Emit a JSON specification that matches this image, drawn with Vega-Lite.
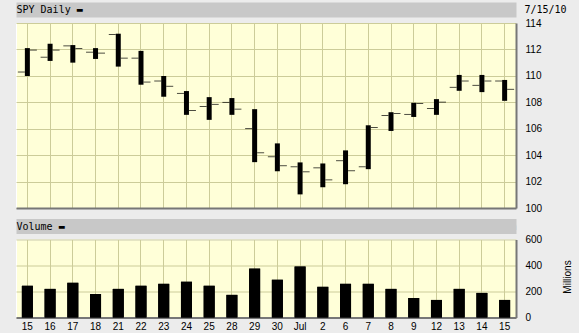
{
  "$schema": "https://vega.github.io/schema/vega-lite/v6.json",
  "background": "#ececec",
  "padding": {"left": 15, "top": 4, "right": 8, "bottom": 1},
  "spacing": 31.5,
  "bounds": "flush",
  "config": {
    "view": {"fill": "#ffffd8", "stroke": "#ffffff", "strokeWidth": 1},
    "axis": {
      "labelFont": "Liberation Sans",
      "labelFontSize": 10,
      "labelColor": "#000000",
      "titleFont": "DejaVu Sans Mono",
      "titleFontSize": 10,
      "titleFontWeight": "normal",
      "titleColor": "#000000",
      "gridColor": "#cccc99",
      "gridWidth": 1,
      "gridOpacity": 1,
      "ticks": false
    }
  },
  "data": {
    "values": [
      {"date": "2010-06-15", "o": 110.29, "h": 112.10, "l": 109.99, "c": 111.95, "v": 244},
      {"date": "2010-06-16", "o": 111.41, "h": 112.43, "l": 111.13, "c": 111.95, "v": 220},
      {"date": "2010-06-17", "o": 112.27, "h": 112.33, "l": 111.00, "c": 112.07, "v": 267},
      {"date": "2010-06-18", "o": 111.79, "h": 112.10, "l": 111.28, "c": 111.72, "v": 181},
      {"date": "2010-06-21", "o": 113.13, "h": 113.19, "l": 110.70, "c": 111.34, "v": 220},
      {"date": "2010-06-22", "o": 111.34, "h": 111.89, "l": 109.33, "c": 109.53, "v": 244},
      {"date": "2010-06-23", "o": 109.61, "h": 109.99, "l": 108.42, "c": 109.21, "v": 259},
      {"date": "2010-06-24", "o": 108.67, "h": 108.85, "l": 107.05, "c": 107.38, "v": 275},
      {"date": "2010-06-25", "o": 107.68, "h": 108.39, "l": 106.67, "c": 107.84, "v": 244},
      {"date": "2010-06-28", "o": 107.99, "h": 108.32, "l": 107.05, "c": 107.48, "v": 174},
      {"date": "2010-06-29", "o": 106.01, "h": 107.48, "l": 103.47, "c": 104.18, "v": 376},
      {"date": "2010-06-30", "o": 103.88, "h": 104.89, "l": 102.78, "c": 103.20, "v": 291},
      {"date": "2010-07-01", "o": 103.12, "h": 103.45, "l": 101.03, "c": 102.74, "v": 392},
      {"date": "2010-07-02", "o": 103.04, "h": 103.37, "l": 101.57, "c": 102.13, "v": 236},
      {"date": "2010-07-06", "o": 103.58, "h": 104.36, "l": 101.80, "c": 102.82, "v": 259},
      {"date": "2010-07-07", "o": 103.12, "h": 106.26, "l": 102.94, "c": 106.09, "v": 259},
      {"date": "2010-07-08", "o": 107.00, "h": 107.25, "l": 105.83, "c": 107.15, "v": 220},
      {"date": "2010-07-09", "o": 107.08, "h": 107.96, "l": 106.89, "c": 107.91, "v": 150},
      {"date": "2010-07-12", "o": 107.53, "h": 108.24, "l": 107.05, "c": 108.01, "v": 135},
      {"date": "2010-07-13", "o": 109.13, "h": 110.07, "l": 108.87, "c": 109.61, "v": 220},
      {"date": "2010-07-14", "o": 109.28, "h": 110.07, "l": 108.77, "c": 109.61, "v": 189},
      {"date": "2010-07-15", "o": 109.61, "h": 109.69, "l": 108.11, "c": 108.98, "v": 135}
    ]
  },
  "vconcat": [
    {
      "width": 500,
      "height": 185,
      "resolve": {"axis": {"x": "independent", "y": "independent"}},
      "layer": [
        {
          "mark": {"type": "bar", "size": 5, "color": "#000000"},
          "encoding": {
            "x": {
              "field": "date", "type": "ordinal", "sort": null,
              "scale": {"paddingInner": 0, "paddingOuter": 0},
              "axis": {
                "orient": "top", "labels": false, "grid": true,
                "domain": true, "domainColor": "#c8c8c8", "domainWidth": 15, "offset": 13.5,
                "title": "SPY Daily ▬", "titleX": 0, "titleY": 0,
                "titleAlign": "left", "titleBaseline": "middle", "titleAnchor": null
              }
            },
            "y": {
              "field": "h", "type": "quantitative",
              "scale": {"domain": [100, 114], "nice": false, "zero": false},
              "axis": {
                "orient": "right", "values": [100, 102, 104, 106, 108, 110, 112, 114],
                "grid": true, "labelPadding": 9, "domain": true, "domainColor": "#777777", "domainWidth": 2,
                "title": "7/15/10", "titleAngle": 0, "titleX": 8, "titleY": -13.5,
                "titleAlign": "left", "titleBaseline": "middle"
              }
            },
            "y2": {"field": "l"}
          }
        },
        {
          "mark": {"type": "tick", "orient": "horizontal", "size": 7, "thickness": 1, "xOffset": -6, "color": "#000000"},
          "encoding": {
            "x": {
              "field": "date", "type": "ordinal", "sort": null,
              "axis": {
                "orient": "bottom", "labels": false, "grid": false,
                "domain": true, "domainColor": "#777777", "domainWidth": 2,
                "title": "©BigCharts.com", "titleFont": "Liberation Sans", "titleFontWeight": "bold",
                "titleFontSize": 11, "titleColor": "#8a8a8a",
                "titleX": 500, "titleY": 18, "titleAlign": "right", "titleBaseline": "middle", "titleAnchor": null
              }
            },
            "y": {"field": "o", "type": "quantitative", "axis": null}
          }
        },
        {
          "mark": {"type": "tick", "orient": "horizontal", "size": 7, "thickness": 1, "xOffset": 6, "color": "#000000"},
          "encoding": {
            "x": {"field": "date", "type": "ordinal", "sort": null, "axis": null},
            "y": {"field": "c", "type": "quantitative", "axis": null}
          }
        }
      ]
    },
    {
      "width": 500,
      "height": 78,
      "resolve": {"axis": {"x": "independent", "y": "independent"}},
      "layer": [
        {
          "mark": {"type": "bar", "size": 11, "color": "#000000"},
          "encoding": {
            "x": {
              "field": "date", "type": "ordinal", "sort": null,
              "scale": {"paddingInner": 0, "paddingOuter": 0},
              "axis": {
                "orient": "bottom", "grid": true, "labelAngle": 0, "labelPadding": 4,
                "domain": true, "domainColor": "#777777", "domainWidth": 2,
                "labelExpr": "datum.value == '2010-07-01' ? 'Jul' : '' + toNumber(substring(datum.value, 8, 10))",
                "title": null
              }
            },
            "y": {
              "field": "v", "type": "quantitative",
              "scale": {"domain": [0, 600], "nice": false},
              "axis": {
                "orient": "right", "values": [0, 200, 400, 600], "grid": true, "labelPadding": 9,
                "domain": true, "domainColor": "#777777", "domainWidth": 2,
                "title": "Millions", "titleFont": "Liberation Sans", "titleAngle": 270,
                "titleX": 51, "titleY": 37, "titleAlign": "center", "titleBaseline": "middle"
              }
            }
          }
        },
        {
          "mark": {"type": "bar", "size": 11, "color": "#000000"},
          "encoding": {
            "x": {
              "field": "date", "type": "ordinal", "sort": null,
              "axis": {
                "orient": "top", "labels": false, "grid": false,
                "domain": true, "domainColor": "#c8c8c8", "domainWidth": 15, "offset": 13.5,
                "title": "Volume ▬", "titleX": 0, "titleY": 0,
                "titleAlign": "left", "titleBaseline": "middle", "titleAnchor": null
              }
            },
            "y": {"field": "v", "type": "quantitative", "axis": null}
          }
        }
      ]
    }
  ]
}
